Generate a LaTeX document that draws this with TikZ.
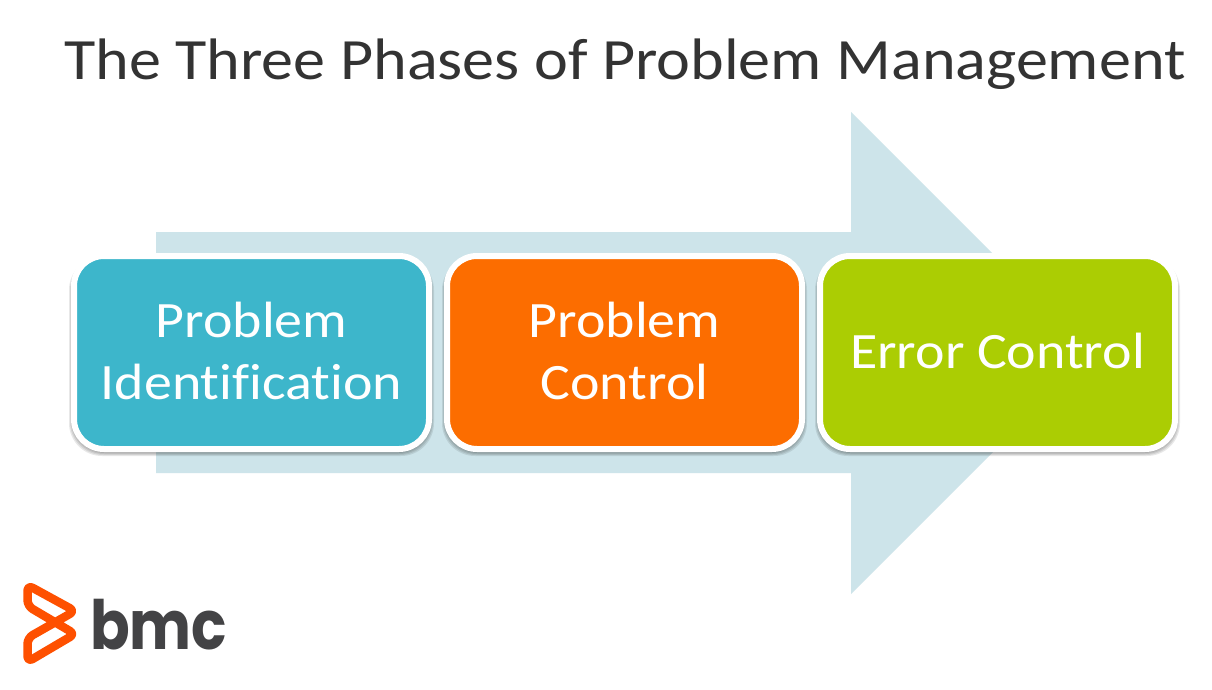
\documentclass[tikz,border=0pt]{standalone}
\usepackage{fontspec}
\setmainfont[FakeStretch=1.096,Ligatures={NoCommon}]{Carlito}
\newfontfamily\logofont[FakeStretch=0.86]{Poppins}
\definecolor{arrowblue}{HTML}{CDE4EA}
\definecolor{boxteal}{HTML}{3DB6CB}
\definecolor{boxorange}{HTML}{FC6D00}
\definecolor{boxgreen}{HTML}{ABCD03}
\definecolor{titlegrey}{HTML}{333333}
\definecolor{logoorange}{HTML}{FE5000}
\definecolor{logogrey}{HTML}{434345}
\tikzset{
  x=1pt,y=-1pt,
  phasebox/.style={draw=white,line width=6pt,rounded corners=30pt,minimum width=355pt,minimum height=193pt,inner sep=0pt},
  phasetext/.style={align=center,text=white,font=\fontsize{51}{61.5}\selectfont,inner sep=0pt},
  shadowlayer/.style={fill=black,rounded corners=33pt,opacity=0.09},
}
\newcommand{\phaseshadow}[2]{%
  \foreach \g in {3,2,1,0}{
    \fill[shadowlayer] (#1+1-\g,#2+4) rectangle (#1+360+\g,#2+199+\g+1);
  }%
}
\begin{document}
\begin{tikzpicture}
\useasboundingbox (0,0) rectangle (1212,690);
\fill[white] (0,0) rectangle (1212,690);
\node[anchor=base west,inner sep=0pt,text=titlegrey,font=\fontsize{58.5}{70}\selectfont] (title) at (64,80) {The Three Phases of Problem Management};
\fill[arrowblue] (156,232) -- (851,232) -- (851,112) -- (1092,353) -- (851,594) -- (851,473) -- (156,473) -- cycle;
\phaseshadow{71}{253}
\phaseshadow{444}{253}
\phaseshadow{817}{253}
\node[phasebox,fill=boxteal] (identification) at (251.5,352.5) {};
\node[phasebox,fill=boxorange] (control) at (624.5,352.5) {};
\node[phasebox,fill=boxgreen] (error) at (997.5,352.5) {};
\node[phasetext] (identificationtext) at (251.5,351) {Problem\\Identification};
\node[phasetext] (controltext) at (624.5,351) {Problem\\Control};
\node[phasetext] (errortext) at (997.5,351) {Error Control};
\draw[logoorange,line width=8.5pt,line join=round,rounded corners=6pt]
  (27.5,585) -- (75,611) -- (27.5,638) -- (27.5,662) -- (75,634) -- (27.5,606) -- cycle;
\node[anchor=base west,inner sep=0pt,text=logogrey,font=\logofont\bfseries\fontsize{68}{70}\selectfont] (logo) at (90,649) {bmc};
\end{tikzpicture}
\end{document}
